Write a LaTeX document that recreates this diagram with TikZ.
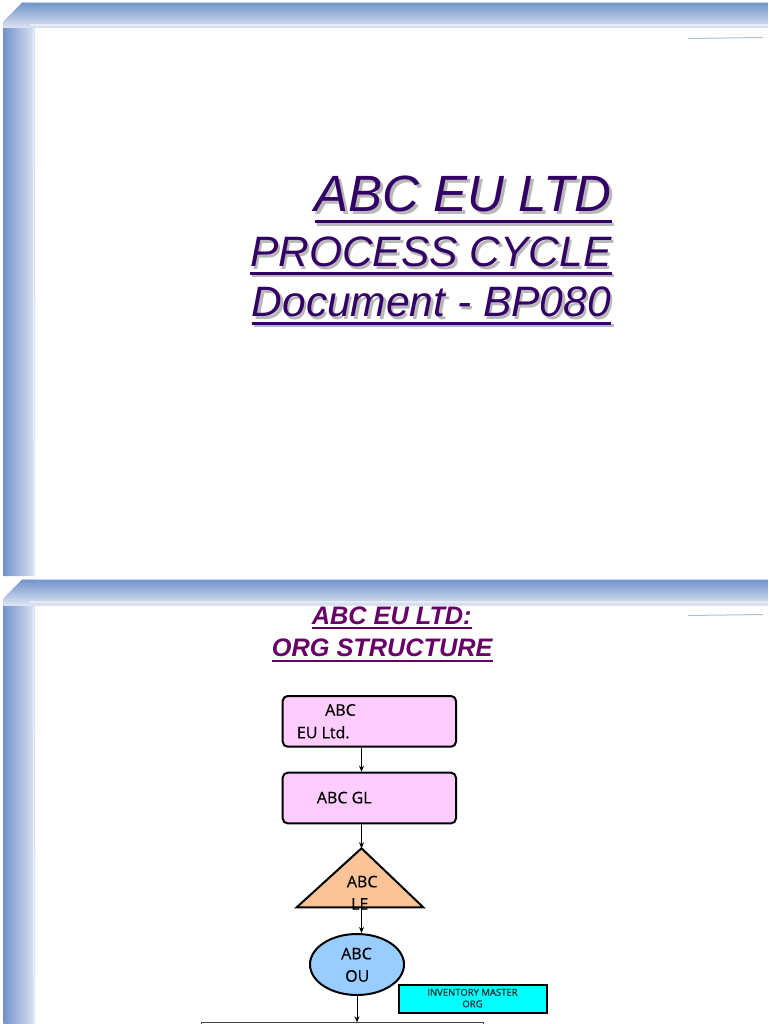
\documentclass[tikz,border=0pt]{standalone}
\usepackage{fontspec}
\setmainfont{Liberation Sans}
\newfontfamily\boxfont[FakeBold=0.6]{Open Sans}
\usetikzlibrary{shapes.geometric,arrows.meta,calc}
\definecolor{titlepurple}{HTML}{330066}
\definecolor{subpurple}{HTML}{660066}
\definecolor{frdark}{HTML}{7393CB}
\definecolor{frmid}{HTML}{AFC2E2}
\definecolor{frlight}{HTML}{DCE4F2}
\definecolor{pinkfill}{HTML}{FFCCFF}
\definecolor{tanfill}{HTML}{FAC398}
\definecolor{bluefill}{HTML}{99CCFF}
\definecolor{cyanfill}{HTML}{00FFFF}
\tikzset{
  ttlbig/.style={font=\fontsize{51}{60}\selectfont\itshape, inner sep=0pt, anchor=base east},
  ttl/.style={font=\fontsize{42.5}{50}\selectfont\itshape, inner sep=0pt, anchor=base east},
  sub/.style={font=\fontsize{25.3}{30}\selectfont\bfseries\itshape, text=subpurple, inner sep=0pt, anchor=base west},
  shadowtxt/.style={text=black!28},
  pinkbox/.style={draw=black, line width=2pt, fill=pinkfill, rounded corners=5pt, anchor=north west, minimum width=173.3pt, minimum height=50.7pt},
  bt/.style={font=\boxfont\fontsize{16}{19}\selectfont, text=black, inner sep=0pt, anchor=base west},
  smalltxt/.style={font=\boxfont\fontsize{9.5}{11}\selectfont, text=black!85, inner sep=0pt, anchor=base},
  arr/.style={line width=0.8pt, -{Stealth[length=6pt,width=5pt]}},
}
\begin{document}
\begin{tikzpicture}[x=1pt,y=-1pt]
\useasboundingbox (0,0) rectangle (768,1024);
\clip (0,0) rectangle (768,1024);
\fill[white] (0,0) rectangle (768,1024);
% ---- slide frames ----
\foreach \t/\b in {0/576, 577/1100}{
  \begin{scope}
    \clip (3.3,\t+22) -- (22,\t+2.7) -- (768,\t+2.7) -- (768,\b) -- (3.3,\b) -- cycle;
    \shade[left color=frdark, middle color=frmid, right color=frlight] (3.3,\t) rectangle (35,\b);
    \shade[top color=frdark, middle color=frmid, bottom color=frlight] (3.3,\t+2.7) rectangle (768,\t+28);
    \draw[white, line width=1pt, opacity=0.6] (33,\t+30) -- (34,\b);
    \draw[white, line width=1.2pt, opacity=0.5] (30,\t+25) -- (768,\t+25);
  \end{scope}
  \draw[frmid, line width=1pt] (688,\t+38.5) -- (763,\t+37.5);
}
% ---- slide 1 title ----
\node[ttlbig, shadowtxt] (t1s) at (614.2,214.2) {ABC EU LTD};
\draw[black!28, line width=3pt] ($(t1s.base west)+(0,10)$) -- ($(t1s.base east)+(0,10)$);
\node[ttlbig, text=titlepurple] (t1) at (611.7,211.7) {ABC EU LTD};
\draw[titlepurple, line width=3pt] ($(t1.base west)+(0,10)$) -- ($(t1.base east)+(0,10)$);

\node[ttl, shadowtxt] (t2s) at (614.2,269.2) {PROCESS CYCLE};
\draw[black!28, line width=2.6pt] ($(t2s.base west)+(0,6.5)$) -- ($(t2s.base east)+(0,6.5)$);
\node[ttl, text=titlepurple] (t2) at (611.7,266.7) {PROCESS CYCLE};
\draw[titlepurple, line width=2.6pt] ($(t2.base west)+(0,6.5)$) -- ($(t2.base east)+(0,6.5)$);

\node[ttl, shadowtxt] (t3s) at (613.5,319.2) {Document - BP080};
\draw[black!28, line width=2.6pt] ($(t3s.base west)+(0,6.5)$) -- ($(t3s.base east)+(0,6.5)$);
\node[ttl, text=titlepurple] (t3) at (611,316.7) {Document - BP080};
\draw[titlepurple, line width=2.6pt] ($(t3.base west)+(0,6.5)$) -- ($(t3.base east)+(0,6.5)$);

% ---- slide 2 title ----
\node[sub] (s1) at (311.7,624) {ABC EU LTD:};
\draw[subpurple, line width=2pt] ($(s1.base west)+(0,4)$) -- ($(s1.base east)+(0,4)$);
\node[sub] (s2) at (271.7,656.7) {ORG STRUCTURE};
\draw[subpurple, line width=2pt] ($(s2.base west)+(0,4)$) -- ($(s2.base east)+(0,4)$);

% ---- org chart ----
\coordinate (leapex) at (361.5,848.3);
\coordinate (lebl) at (296.7,907.3);
\coordinate (lebr) at (423.3,907.3);
\coordinate (lebase) at (361.5,907.3);

\node[pinkbox] (ltd) at (281.7,695) {};
\node[bt] (ltdA) at (325,715.7) {ABC};
\node[bt] (ltdB) at (296.7,738.3) {EU Ltd.};

\node[pinkbox] (gl) at (281.7,771.7) {};
\node[bt] (glA) at (316.7,803.3) {ABC GL};

\filldraw[fill=tanfill, draw=black, line width=2pt, line join=miter] (leapex) -- (lebr) -- (lebl) -- cycle;
\node[bt] (leA) at (346.7,887.3) {ABC};
\node[bt] (leB) at (351,909.5) {LE};

\node[ellipse, draw=black, line width=2pt, fill=bluefill, minimum width=94pt, minimum height=61pt] (ou) at (357,964.5) {};
\node[bt] (ouA) at (341,959.3) {ABC};
\node[bt] (ouB) at (345,981.7) {OU};

\node[draw=black, line width=2pt, fill=cyanfill, anchor=north west, minimum width=147.7pt, minimum height=27.4pt, inner sep=0pt] (inv) at (398.3,984.3) {};
\node[smalltxt] (invA) at (472.5,995.7) {INVENTORY MASTER};
\node[smalltxt] (invB) at (472.5,1007.3) {ORG};

\node[draw=black!75, line width=1pt, anchor=north west, minimum width=282.6pt, minimum height=60pt, inner sep=0pt] (bot) at (200.7,1022.3) {};

\draw[arr] (ltd.south -| leapex) -- (gl.north -| leapex);
\draw[arr] (gl.south -| leapex) -- (leapex);
\draw[arr] (lebase) -- (lebase |- ou.north);
\draw[arr] (ou.south) -- (ou.south |- bot.north);
\end{tikzpicture}
\end{document}
